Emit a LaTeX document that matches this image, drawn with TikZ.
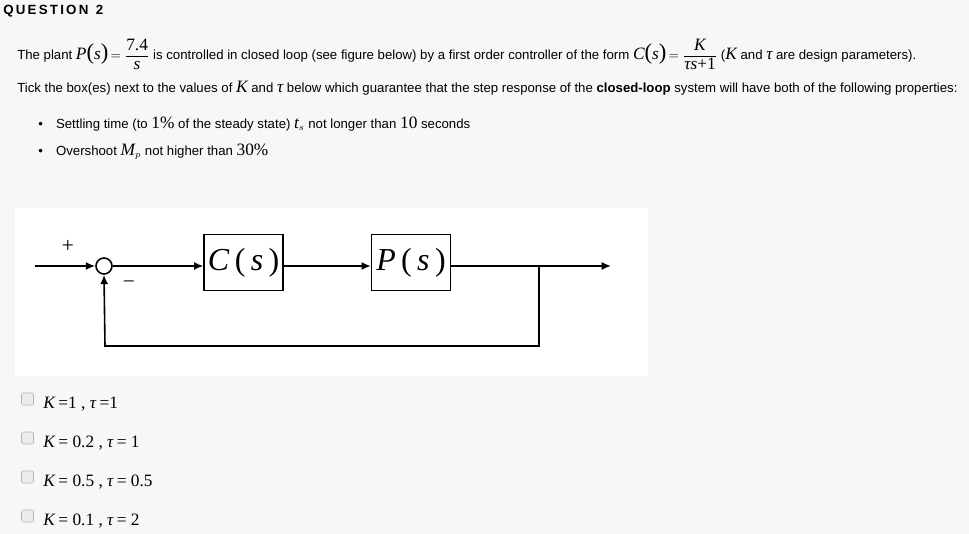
\documentclass[tikz,border=0pt]{standalone}
\usepackage{fontspec}
\usetikzlibrary{arrows.meta}
\setmainfont{Liberation Sans}
\newfontfamily\serf{Liberation Serif}
\newcommand{\mi}[1]{{\serf\itshape\fontsize{13}{13}\selectfont #1}}
\newcommand{\mr}[1]{{\serf\fontsize{13}{13}\selectfont #1}}
\newcommand{\pr}[1]{{\serf\fontsize{17}{17}\selectfont #1}}
\begin{document}
\begin{tikzpicture}[x=0.75pt,y=-0.75pt,
  txt/.style={anchor=base west,inner sep=0,font=\fontsize{9.9}{11}\selectfont},
  blk/.style={draw,line width=1.2pt,minimum width=59pt,minimum height=42pt,inner sep=0,font=\fontsize{24}{24}\selectfont\serf},
  sig/.style={line width=1.2pt,-{Latex[length=7pt,width=6pt]}},
  cb/.style={draw=gray!60,fill=gray!15,rounded corners=1.5pt,minimum size=9pt,inner sep=0},
  opt/.style={anchor=base west,inner sep=0,font=\fontsize{13}{14}\selectfont\serf}]
\fill[gray!6] (0,0) rectangle (969,534);
\useasboundingbox (0,0) rectangle (969,534);
\node[txt,font=\fontsize{10}{12}\selectfont\bfseries] (q) at (3,15) {Q\,U\,E\,S\,T\,I\,O\,N\; 2};
\node[txt] (l1) at (17,60) {The plant \mi{P}\pr{(}\mi{s}\pr{)}\,$=\displaystyle\frac{\mbox{\mr{7.4}}}{\mbox{\mi{s}}}$ is controlled in closed loop (see figure below) by a first order controller of the form \mi{C}\pr{(}\mi{s}\pr{)}\,$=\displaystyle\frac{\mbox{\mi{K}}}{\mbox{\mi{τs}\mr{+1}}}$ (\mi{K} and \mi{τ} are design parameters).};
\node[txt] (l2) at (17,93) {Tick the box(es) next to the values of \mi{K} and \mi{τ} below which guarantee that the step response of the \textbf{closed-loop} system will have both of the following properties:};
\node[txt] (b1) at (38,129) {•\quad Settling time (to \mr{1\%} of the steady state) \mi{t}$_s$ not longer than \mr{10} seconds};
\node[txt] (b2) at (38,156) {•\quad Overshoot \mi{M}$_p$ not higher than \mr{30\%}};
\fill[white] (15,208) rectangle (648,376);
\coordinate (in) at (35,266);
\node[draw,circle,line width=1.2pt,minimum size=12pt,inner sep=0] (sum) at (104,266) {};
\node[blk] (C) at (243.5,262.5) {\textit{C}\,(\,\textit{s}\,)};
\node[blk] (P) at (411,262.5) {\textit{P}\,(\,\textit{s}\,)};
\coordinate (br) at (539,266);
\coordinate (out) at (611,266);
\coordinate (d1) at (539,346);
\coordinate (d2) at (105,346);
\draw[sig] (in) -- (sum);
\draw[sig] (sum) -- (C.west|-sum);
\draw[sig] (C.east|-sum) -- (P.west|-sum);
\draw[sig] (P.east|-sum) -- (out);
\draw[sig] (br) -- (d1) -- (d2) -- (sum.south);
\node[font=\fontsize{16}{16}\selectfont\serf] (plus) at (68,246) {+};
\node[font=\fontsize{16}{16}\selectfont\serf] (minus) at (129,285) {−};
\foreach \y/\t [count=\i] in {403/{\textit{K}\,=1 , \textit{τ}\,=1},442/{\textit{K}\,= 0.2 , \textit{τ}\,= 1},481/{\textit{K}\,= 0.5 , \textit{τ}\,= 0.5},520/{\textit{K}\,= 0.1 , \textit{τ}\,= 2}}{
  \node[cb] (c\i) at (27.5,\y-4) {};
  \node[opt] (o\i) at (43,\y+5) {\t};
}
\end{tikzpicture}
\end{document}
